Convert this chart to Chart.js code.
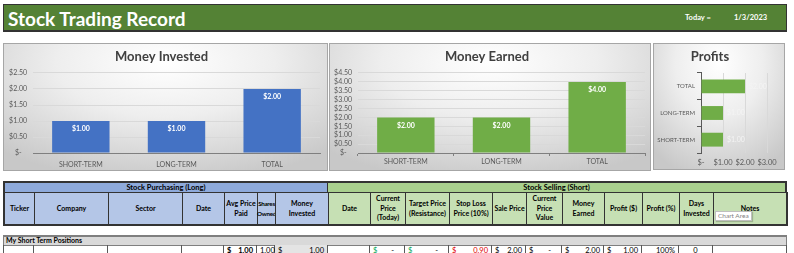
<!DOCTYPE html>
<html>
<head>
<meta charset="utf-8">
<script src="https://cdn.jsdelivr.net/npm/chart.js@4.4.0/dist/chart.umd.min.js"></script>
<style>
  html, body { margin: 0; padding: 0; background: #fff; width: 794px; height: 253px; overflow: hidden; }
  body { position: relative; font-family: Lato, "Liberation Sans", sans-serif; color: #000; }
  #titlebar { position: absolute; left: 3px; top: 4px; width: 784px; height: 28px; box-sizing: border-box;
    background: #548235; border: 1px solid #333; border-bottom: 2px solid #333; }
  #titlebar .main { position: absolute; left: 4px; top: 2px; font-size: 19px; font-weight: bold; color: #fff; line-height: 24px; }
  #titlebar .small { position: absolute; top: 8px; font-size: 7.5px; font-weight: bold; color: #fff; line-height: 10px; }
  .panel { position: absolute; top: 43px; box-sizing: border-box; border: 1px solid #a6a6a6;
    background: radial-gradient(ellipse 75% 95% at 50% 15%, #ffffff 0%, #eeeeee 45%, #c8c8c8 100%); }
  canvas.chart { position: absolute; top: 43px; }
  .cell { position: absolute; box-sizing: border-box; overflow: visible; display: flex; align-items: center;
    justify-content: center; text-align: center; font-size: 7px; font-weight: bold; line-height: 9.6px; }
  .dcell { position: absolute; box-sizing: border-box; display: flex; justify-content: space-between;
    font-size: 7.5px; line-height: 10px; padding: 1px 3px 0 3px; border-right: 1px solid #595959; }
  #tip { position: absolute; left: 715px; top: 211px; width: 37px; height: 10px; box-sizing: border-box; background: #fff;
    border: 1px solid #bfbfbf; font-size: 6.5px; color: #7f7f7f; line-height: 8px; padding-left: 2px; box-shadow: 1px 1px 1px rgba(0,0,0,0.2); }
</style>
</head>
<body>
<div id="titlebar">
  <div class="main">Stock Trading Record</div>
  <div class="small" style="left:681px;">Today =</div>
  <div class="small" style="left:730px;">1/3/2023</div>
</div>

<div class="panel" style="left:3px; width:325px; height:128px;"></div>
<div class="panel" style="left:329px; width:322px; height:128px;"></div>
<div class="panel" style="left:653px; width:132px; height:127px;"></div>
<canvas id="investedChart" class="chart" width="325" height="128" style="left:3px;"></canvas>
<canvas id="earnedChart" class="chart" width="322" height="128" style="left:329px;"></canvas>
<canvas id="profitChart" class="chart" width="132" height="127" style="left:653px;"></canvas>

<div id="table"></div>
<div id="tip">Chart Area</div>

<script>
// chart data
const categories = ['SHORT-TERM', 'LONG-TERM', 'TOTAL'];
const investedValues = [1, 1, 2];
const earnedValues = [2, 2, 4];
const profitValues = [1, 1, 2];
const investedTicks = [0, 0.5, 1, 1.5, 2, 2.5];
const earnedTicks = [0, 0.5, 1, 1.5, 2, 2.5, 3, 3.5, 4, 4.5];
const profitTicks = [0, 1, 2, 3];

const FONT = 'Lato, "Liberation Sans", sans-serif';
const BLUE = '#4472c4';
const GREEN = '#70ad47';

function money(v) {
    return v === 0 ? '$-' : '$' + Number(v).toFixed(2);
}

// draws the value of each bar
const valueLabels = {
    id: 'valueLabels',
    afterDatasetsDraw(chart, args, opts) {
        const ctx = chart.ctx;
        const values = chart.data.datasets[0].data;
        ctx.save();
        ctx.font = opts.font;
        ctx.fillStyle = opts.color;
        ctx.textBaseline = 'middle';
        chart.getDatasetMeta(0).data.forEach((bar, i) => {
            if (chart.options.indexAxis === 'y') {
                ctx.textAlign = 'left';
                ctx.fillText(money(values[i]), bar.x + opts.offset, bar.y);
            } else {
                ctx.textAlign = 'center';
                ctx.fillText(money(values[i]), bar.x, bar.y + opts.offset);
            }
        });
        ctx.restore();
    }
};

function titleOpts(text) {
    return {
        display: true,
        text: text,
        color: '#404040',
        font: { family: FONT, size: 13, weight: 'bold', lineHeight: 1.2 },
        padding: { top: 0, bottom: 8.2 }
    };
}

const tickFont = { family: FONT, size: 7 };

function columnChart(id, values, ticks, color, title, xTicks) {
    return new Chart(document.getElementById(id), {
        type: 'bar',
        data: {
            labels: categories,
            datasets: [{ data: values, backgroundColor: color, barPercentage: 0.6, categoryPercentage: 1 }]
        },
        options: {
            responsive: false,
            animation: false,
            layout: { padding: { top: 6.2, right: id === 'investedChart' ? 8 : 6, bottom: 0, left: 0 } },
            plugins: {
                legend: { display: false },
                tooltip: { enabled: false },
                title: titleOpts(title),
                valueLabels: { font: 'bold 7px ' + FONT, color: '#ffffff', offset: 8 }
            },
            scales: {
                x: {
                    grid: { display: xTicks, drawOnChartArea: false, tickLength: 3, color: '#7f7f7f' },
                    border: { display: true, color: '#7f7f7f' },
                    ticks: { color: '#595959', font: tickFont, padding: xTicks ? 2 : 5, maxRotation: 0, minRotation: 0, autoSkip: false },
                    afterFit: s => { s.height = 18; }
                },
                y: {
                    min: ticks[0],
                    max: ticks[ticks.length - 1],
                    afterBuildTicks: s => { s.ticks = ticks.map(v => ({ value: v })); },
                    grid: { color: '#d9d9d9', drawTicks: false },
                    border: { display: false },
                    ticks: { color: '#595959', font: tickFont, padding: 6, autoSkip: false,
                        callback: v => v === 0 ? '$-   ' : money(v) },
                    afterFit: s => { s.width = id === 'investedChart' ? 30 : 29; }
                }
            }
        },
        plugins: [valueLabels]
    });
}

columnChart('investedChart', investedValues, investedTicks, BLUE, 'Money Invested', false);
columnChart('earnedChart', earnedValues, earnedTicks, GREEN, 'Money Earned', true);

new Chart(document.getElementById('profitChart'), {
    type: 'bar',
    data: {
        labels: categories,
        datasets: [{ data: profitValues, backgroundColor: GREEN, barPercentage: 0.52, categoryPercentage: 1 }]
    },
    options: {
        indexAxis: 'y',
        responsive: false,
        animation: false,
        layout: { padding: { top: 6.2, right: 18, bottom: 0, left: 0 } },
        plugins: {
            legend: { display: false },
            tooltip: { enabled: false },
            title: titleOpts('Profits'),
            valueLabels: { font: '7px ' + FONT, color: '#f4f4f4', offset: 4 }
        },
        scales: {
            x: {
                min: profitTicks[0],
                max: profitTicks[profitTicks.length - 1],
                afterBuildTicks: s => { s.ticks = profitTicks.map(v => ({ value: v })); },
                grid: { color: '#d9d9d9', drawTicks: false },
                border: { display: false },
                ticks: { color: '#595959', font: { family: FONT, size: 7.5 }, padding: 5, autoSkip: false,
                    maxRotation: 0, minRotation: 0, callback: v => money(v) },
                afterFit: s => { s.height = 17; }
            },
            y: {
                reverse: true,
                grid: { display: true, drawOnChartArea: false, drawTicks: true, tickLength: 4, color: '#595959' },
                border: { display: true, color: '#595959' },
                ticks: { color: '#595959', font: { family: FONT, size: 6 }, padding: 2, autoSkip: false },
                afterFit: s => { s.width = 48; }
            }
        }
    },
    plugins: [valueLabels]
});

// spreadsheet table below the charts
const colEdges = [3, 34, 108, 182, 224, 257, 275, 328, 370, 405, 449, 492, 526, 562, 604, 642, 679, 713, 787];
const headers = ['Ticker', 'Company', 'Sector', 'Date', 'Avg Price<br>Paid', 'Shares<br>Owned', 'Money<br>Invested',
    'Date', 'Current<br>Price<br>(Today)', 'Target Price<br>(Resistance)', 'Stop Loss<br>Price (10%)', 'Sale Price',
    'Current<br>Price<br>Value', 'Money<br>Earned', 'Profit ($)', 'Profit (%)', 'Days<br>Invested', 'Notes'];
const row = [null, null, null, null,
    { cur: '$', num: '1.00', bold: true },
    { cur: '', num: '1.00' },
    { cur: '$', num: '1.00', bg: '#e4e4e4' },
    null,
    { cur: '$', num: '-', curColor: '#00a651' },
    { cur: '$', num: '-', curColor: '#00a651' },
    { cur: '$', num: '0.90', curColor: '#e00000', color: '#e00000' },
    { cur: '$', num: '2.00' },
    { cur: '$', num: '-' },
    { cur: '$', num: '2.00' },
    { cur: '$', num: '1.00' },
    { cur: '', num: '100%' },
    { center: '0' },
    null];

const table = document.getElementById('table');
function addBox(html, left, top, width, height, style) {
    const d = document.createElement('div');
    d.className = 'cell';
    d.style.cssText = `left:${left}px;top:${top}px;width:${width}px;height:${height}px;` + (style || '');
    d.innerHTML = html;
    table.appendChild(d);
    return d;
}

// group header row
addBox('Stock Purchasing (Long)', 3, 181, 325, 12, 'background:#8eaadb;border:1px solid #333;border-top-width:2px;border-left-width:2px;font-size:7.5px;');
addBox('Stock Selling (Short)', 327, 181, 460, 12, 'background:#a9d08e;border:1px solid #333;border-top-width:2px;border-right-width:2px;font-size:7.5px;');

// column header row
for (let i = 0; i < headers.length; i++) {
    const left = colEdges[i];
    const w = colEdges[i + 1] - left + 1;
    const bg = i < 7 ? '#b4c6e7' : '#c6e0b4';
    let st = `background:${bg};border:1px solid #333;border-bottom-width:2px;`;
    if (i === 0) st += 'border-left-width:2px;';
    if (i === headers.length - 1) st += 'border-right-width:2px;';
    if (i === 5) st += 'font-size:6.2px;letter-spacing:-0.25px;';
    addBox(headers[i], left, 192, w, 34, st);
}

// section row
addBox('My Short Term Positions', 3, 235, 784, 11,
    'background:#d9d9d9;border:1px solid #7f7f7f;border-top:2px solid #7f7f7f;justify-content:flex-start;padding-left:2px;font-size:7px;');

// data row
for (let i = 0; i < row.length; i++) {
    const left = colEdges[i];
    const w = colEdges[i + 1] - left;
    const d = document.createElement('div');
    d.className = 'dcell';
    d.style.cssText = `left:${left}px;top:245px;width:${w}px;height:14px;`;
    if (i === 0) d.style.borderLeft = '1px solid #595959';
    const c = row[i];
    if (c) {
        if (c.bg) d.style.background = c.bg;
        if (c.center !== undefined) {
            d.style.justifyContent = 'center';
            d.textContent = c.center;
        } else {
            const a = document.createElement('span');
            a.textContent = c.cur;
            if (c.curColor) a.style.color = c.curColor;
            const b = document.createElement('span');
            b.textContent = c.num;
            if (c.color) b.style.color = c.color;
            if (c.bold) { a.style.fontWeight = 'bold'; b.style.fontWeight = 'bold'; }
            if (c.num === '-') b.style.paddingRight = '7px';
            d.appendChild(a);
            d.appendChild(b);
        }
    }
    table.appendChild(d);
}
</script>
</body>
</html>
